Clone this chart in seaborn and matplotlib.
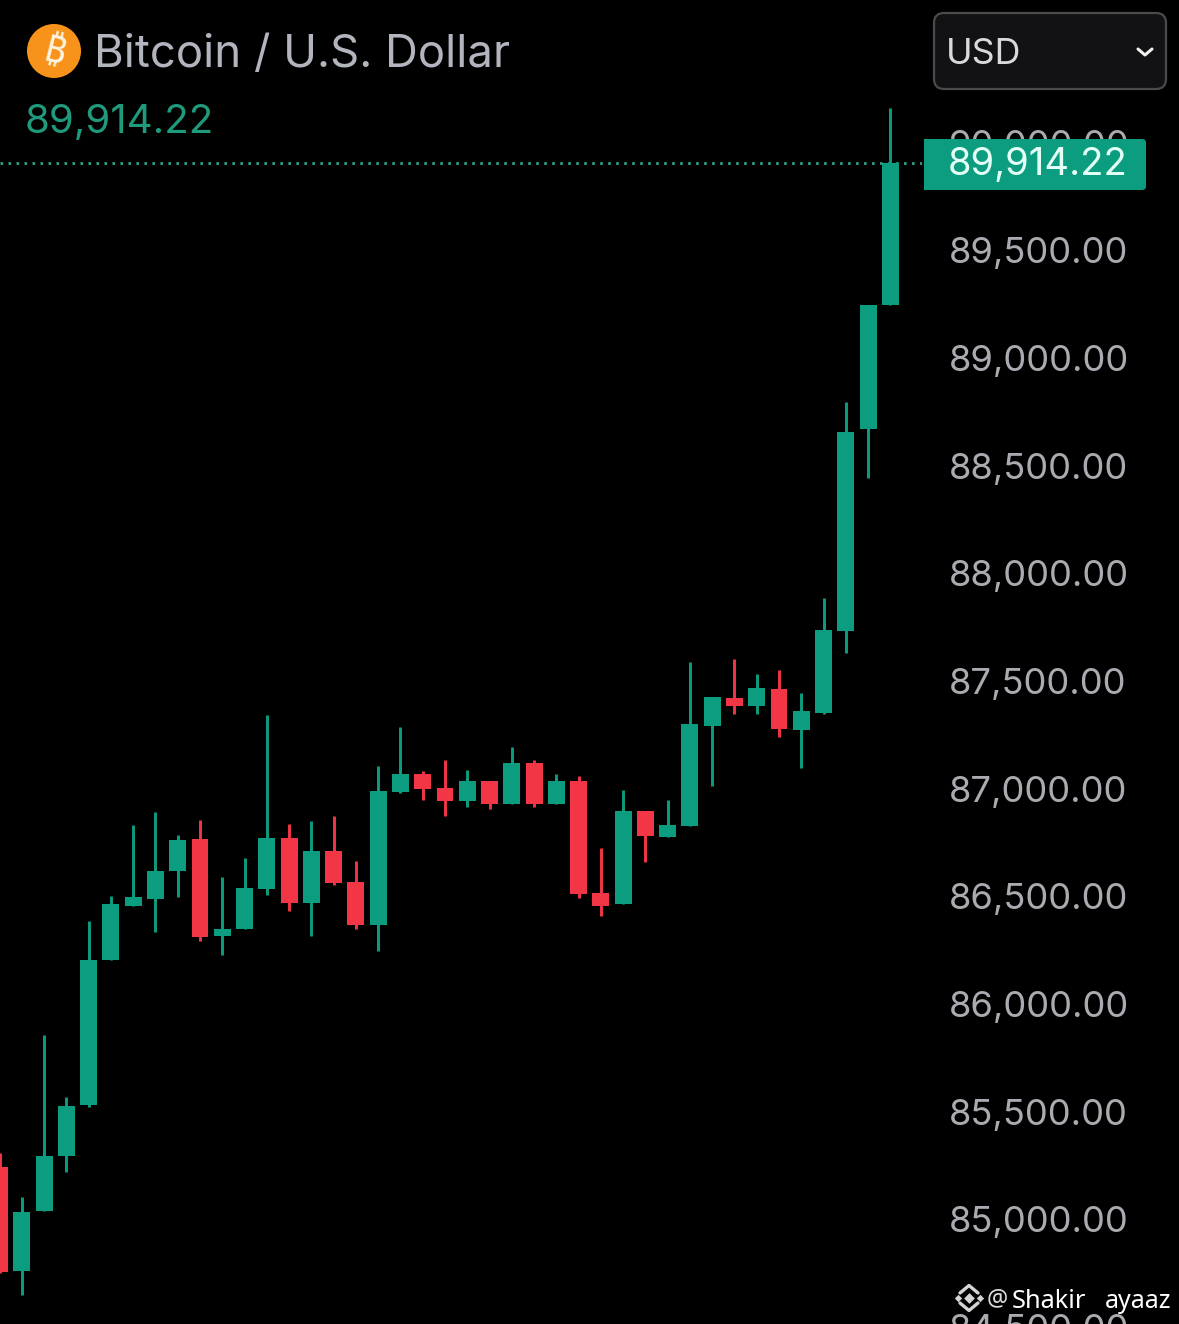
import matplotlib
matplotlib.use('Agg')
import matplotlib.pyplot as plt
import seaborn as sns
import pandas as pd
from matplotlib.patches import Circle, FancyBboxPatch, Rectangle
from matplotlib.transforms import ScaledTranslation

# candle values
opens = [85253, 84771, 85049, 85305, 85541, 86215, 86466, 86498, 86628, 86777, 86326,
         86359, 86545, 86781, 86480, 86721, 86577, 86377, 86995, 87079, 87014, 86953,
         87046, 86939, 87130, 86939, 87046, 86526, 86475, 86907, 86786, 86837, 87301,
         87432, 87394, 87473, 87283, 87362, 87743, 88681, 89257]
highs = [85318, 85114, 85867, 85579, 86396, 86512, 86842, 86902, 86795, 86865, 86600,
         86688, 87353, 86846, 86860, 86884, 86675, 87116, 87297, 87092, 87144, 87097,
         87046, 87204, 87144, 87079, 87069, 86735, 87004, 86907, 86958, 87599, 87436,
         87613, 87543, 87562, 87455, 87896, 88806, 89257, 90171]
lows = [84761, 84659, 85049, 85230, 85532, 86215, 86466, 86345, 86507, 86303, 86238,
        86359, 86517, 86442, 86326, 86563, 86359, 86257, 86990, 86958, 86884, 86925,
        86916, 86939, 86925, 86939, 86503, 86419, 86475, 86670, 86786, 86837, 87023,
        87357, 87357, 87250, 87106, 87357, 87641, 88453, 89257]
closes = [84766, 85045, 85305, 85537, 86215, 86475, 86507, 86628, 86772, 86322, 86359,
          86549, 86781, 86480, 86721, 86572, 86377, 87000, 87079, 87009, 86953, 87046,
          86939, 87130, 86939, 87046, 86521, 86466, 86907, 86791, 86842, 87311, 87436,
          87394, 87478, 87288, 87371, 87747, 88667, 89257, 89914.22]
price_ticks = [84500, 85000, 85500, 86000, 86500, 87000, 87500, 88000, 88500, 89000, 89500, 90000]
last_price = 89914.22
pair_name = 'Bitcoin / U.S. Dollar'
currency = 'USD'

GREEN = '#0c9d80'
RED = '#f23645'
W, H = 1179, 1324

sns.set_theme(style='dark', rc={'axes.facecolor': 'black', 'figure.facecolor': 'black'})
plt.rcParams['font.family'] = ['Inter', 'DejaVu Sans']

df = pd.DataFrame({'idx': range(len(opens)), 'open': opens, 'high': highs, 'low': lows, 'close': closes})
df['up'] = df['close'] >= df['open']
df['body'] = (df['close'] - df['open']).abs()
df['bottom'] = df[['open', 'close']].min(axis=1)

fig = plt.figure(figsize=(W / 100, H / 100), dpi=100)
# axes run a little past the bottom edge so the 84,500 label is still drawn, cut by the figure
ax = fig.add_axes([0, -16 / H, 922 / W, 1340 / H])

# wicks
wicks = df.melt(id_vars=['idx', 'up'], value_vars=['high', 'low'], value_name='price')
sns.lineplot(data=wicks, x='idx', y='price', units='idx', estimator=None, hue='up',
             palette={True: GREEN, False: RED}, linewidth=2.1, legend=False, ax=ax, solid_capstyle='butt')

# bodies
for is_up, color in [(True, GREEN), (False, RED)]:
    part = df[df['up'] == is_up]
    sns.barplot(data=part, x='idx', y='body', bottom=part['bottom'], native_scale=True, color=color,
                saturation=1, width=0.76, errorbar=None, linewidth=0, ax=ax, zorder=3)

ax.axhline(last_price, color='#2fa88c', lw=1.9, ls=(0, (1, 2.03)), zorder=1)

ax.set_xlabel('')
ax.set_ylabel('')
ax.set_xticks([])
ax.grid(False)
for s in ax.spines.values():
    s.set_visible(False)

ax.yaxis.tick_right()
ax.set_yticks(price_ticks)
ax.set_yticklabels([f'{p:,.2f}' for p in price_ticks])
ax.set_xlim(0.02, 41.42)
ax.set_ylim(84449.5, 90672.6)
ax.tick_params(axis='y', length=0, pad=19.0, labelsize=26.2, labelcolor='#a9abb0')
for lab in ax.get_yticklabels():
    lab.set_transform(lab.get_transform() + ScaledTranslation(0, 2 / 100, fig.dpi_scale_trans))

# header, badge and watermark in pixel coords
ov = fig.add_axes([0, 0, 1, 1], facecolor='none')
ov.set_xlim(0, W)
ov.set_ylim(H, 0)
ov.axis('off')

ov.add_patch(Circle((54, 51), 27, color='#f7931a', lw=0))
ov.text(54, 53, '\u20bf', color='#fff3e0', fontsize=27, fontweight='bold', rotation=-14, ha='center', va='center',
        family=['Noto Sans', 'Inter', 'Roboto', 'Open Sans', 'Lato'])
ov.text(94, 55, pair_name, color='#b2b5be', fontsize=32.8, va='center', ha='left')
ov.text(25, 123, f'{last_price:,.2f}', color='#1f9a7c', fontsize=29, va='center', ha='left')

# currency box
ov.add_patch(FancyBboxPatch((941, 20), 218, 62, boxstyle='round,pad=7,rounding_size=10',
                            fc='#121214', ec='#4b4b4e', lw=1.6))
ov.text(946, 55, currency, color='#d9d9dc', fontsize=25.8, va='center', ha='left')
ov.plot([1138, 1145, 1152], [49, 55, 49], color='#f0f0f0', lw=2.2)

# last price badge
ov.add_patch(FancyBboxPatch((930, 143), 212, 43, boxstyle='round,pad=4,rounding_size=4', fc=GREEN, ec='none'))
ov.add_patch(Rectangle((924, 139), 20, 51, fc=GREEN, ec='none'))
ov.text(1038, 165, f'{last_price:,.2f}', color='#e4fff6', fontsize=27.5, va='center', ha='center')

# watermark
wm = ['Noto Sans', 'DejaVu Sans']
icon = '#d4d4d4'
ov.plot([960, 969, 978], [1293, 1285.5, 1293], color=icon, lw=2.4)
ov.plot([960, 969, 978], [1303, 1310.5, 1303], color=icon, lw=2.4)
for dx, s in [(0, 30), (-11, 14), (11, 14)]:
    ov.scatter(969 + dx, 1298, marker='D', s=s, color=icon, linewidths=0)
ov.text(997, 1299, '@', color='#dcdcdc', fontsize=17, family=wm, ha='center', va='center')
ov.text(1012, 1301, 'Shakir', color='white', fontsize=18.3, family=wm, ha='left', va='center')
ov.text(1105, 1301, 'ayaaz', color='white', fontsize=18, family=wm, ha='left', va='center')

fig.savefig('out.png', dpi=100, facecolor='black')
plt.close(fig)
